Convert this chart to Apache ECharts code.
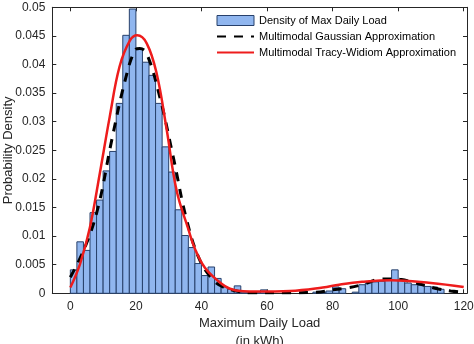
<!DOCTYPE html>
<html>
<head>
<meta charset="utf-8">
<script src="https://cdn.jsdelivr.net/npm/echarts@6.0.0/dist/echarts.min.js"></script>
<style>
  html, body { margin: 0; padding: 0; background: #fff; }
  #chart { width: 474px; height: 344px; }
</style>
</head>
<body>
<div id="chart"></div>
<script>
// Histogram of the maximum daily load (bin edges in kWh, probability density per bin)
const binEdges = [0, 2, 4, 6, 8, 10, 12, 14, 16, 18, 20, 22, 24, 26, 28, 30, 32, 34, 36, 38, 40,
  42, 44, 46, 48, 50, 52, 54, 56, 58, 60, 62, 64, 66, 68, 70, 72, 74, 76, 78, 80,
  82, 84, 86, 88, 90, 92, 94, 96, 98, 100, 102, 104, 106, 108, 110, 112, 114, 116, 118, 120];
const density = [
  0.0041, 0.0090, 0.0075, 0.0141, 0.0163, 0.0214, 0.0248, 0.0332, 0.0451, 0.0497,
  0.0428, 0.0404, 0.0381, 0.0332, 0.0256, 0.0212, 0.0146, 0.0101, 0.0080, 0.0052,
  0.0031, 0.0046, 0.0026, 0.0011, 0.0007, 0.0013, 0.0002, 0.0000, 0.0002, 0.0006,
  0.0002, 0.0000, 0.0000, 0.0000, 0.0000, 0.0000, 0.0000, 0.0002, 0.0002, 0.0004,
  0.0011, 0.0008, 0.0000, 0.0002, 0.0015, 0.0018, 0.0020, 0.0021, 0.0023, 0.0041,
  0.0023, 0.0018, 0.0015, 0.0014, 0.0012, 0.0011, 0.0007, 0.0000, 0.0000, 0.0000];

// Fitted densities sampled along the load axis
const gaussX = [0, 4.5, 8.5, 12.6, 16.7, 19.7, 21.2, 23.3, 27.3, 31.4, 35.5, 39.5, 43.6, 46.6, 50.7,
  55, 65, 75, 80, 84, 89, 95, 98, 101, 104, 108, 112, 116, 120];
const gaussY = [0.0028, 0.0081, 0.0151, 0.0267, 0.0372, 0.0425, 0.0428, 0.0419, 0.0343, 0.0238,
  0.0128, 0.0058, 0.0023, 0.0011, 0.0004, 0.0001, 0.0001, 0.0002, 0.0006, 0.0009, 0.0015,
  0.0025, 0.0025, 0.0024, 0.0020, 0.0014, 0.0008, 0.0004, 0.0002];

const tracyX = [0, 3, 6, 9, 12, 15, 18.2, 20.4, 23.3, 26.3, 29.4, 32.4, 36, 38, 41, 45, 48.7,
  52.7, 57, 67, 77, 82, 89, 98, 110, 120];
const tracyY = [0.0010, 0.0052, 0.0116, 0.0210, 0.0308, 0.0396, 0.0442, 0.0451, 0.0437, 0.0385,
  0.0286, 0.0180, 0.0112, 0.0078, 0.0045, 0.0022, 0.0008, 0.00035, 0.0003, 0.0004, 0.0010,
  0.0015, 0.0020, 0.0023, 0.0018, 0.0011];

const xTicks = [0, 20, 40, 60, 80, 100, 120];

const seriesNames = ['Density of Max Daily Load', 'Multimodal Gaussian Approximation', 'Multimodal Tracy-Widiom Approximation'];

const barFill = '#90b6ef';
const barEdge = '#27406b';
const axisColor = '#262626';
const font = "'Liberation Sans', Arial, Helvetica, sans-serif";

const histData = density.map((d, i) => [binEdges[i], binEdges[i + 1], d]);
const gaussData = gaussX.map((x, i) => [x, gaussY[i]]);
const tracyData = tracyX.map((x, i) => [x, tracyY[i]]);

const xMin = -5.5, xMax = 121;

const chart = echarts.init(document.getElementById('chart'), null, { renderer: 'canvas' });

const baseX = {
  type: 'value', min: xMin, max: xMax,
  splitLine: { show: false },
  axisLine: { show: true, onZero: false, lineStyle: { color: axisColor, width: 1 } },
  axisTick: { show: true, inside: true, length: 4, customValues: xTicks, lineStyle: { color: axisColor } },
};
const baseY = {
  type: 'value', min: 0, max: 0.05, interval: 0.005,
  splitLine: { show: false },
  axisLine: { show: true, onZero: false, lineStyle: { color: axisColor, width: 1 } },
  axisTick: { show: true, inside: true, length: 4, lineStyle: { color: axisColor } },
};

chart.setOption({
  animation: false,
  backgroundColor: '#fff',
  grid: { left: 52.3, right: 7, top: 7.3, bottom: 50.7, containLabel: false, outerBoundsMode: 'none' },
  xAxis: [
    Object.assign({}, baseX, {
      position: 'bottom',
      name: 'Maximum Daily Load\n(in kWh)',
      nameLocation: 'middle',
      nameGap: 21,
      nameMoveOverlap: false,
      nameTextStyle: { color: axisColor, fontSize: 13, fontFamily: font, lineHeight: 18 },
      axisLabel: { show: true, customValues: xTicks, margin: 7, color: axisColor, fontSize: 12, fontFamily: font },
    }),
    Object.assign({}, baseX, { position: 'top', axisLabel: { show: false } }),
  ],
  yAxis: [
    Object.assign({}, baseY, {
      position: 'left',
      name: 'Probability Density',
      nameLocation: 'middle',
      nameGap: 37,
      nameMoveOverlap: false,
      nameTextStyle: { color: axisColor, fontSize: 13, fontFamily: font },
      axisLabel: { show: true, margin: 7, color: axisColor, fontSize: 12, fontFamily: font },
    }),
    Object.assign({}, baseY, { position: 'right', axisLabel: { show: false } }),
  ],
  legend: {
    orient: 'vertical',
    left: 211,
    top: 10,
    itemWidth: 37,
    itemHeight: 10,
    itemGap: 5,
    textStyle: { color: '#000', fontSize: 11, fontFamily: font },
    data: [
      { name: seriesNames[0], icon: 'rect', itemStyle: { color: barFill, borderColor: barEdge, borderWidth: 1 } },
      { name: seriesNames[1], itemStyle: { opacity: 0 } },
      { name: seriesNames[2], itemStyle: { opacity: 0 } },
    ],
  },
  series: [
    {
      name: seriesNames[0],
      type: 'custom',
      xAxisIndex: 0, yAxisIndex: 0,
      encode: { x: [0, 1], y: 2 },
      itemStyle: { color: barFill, borderColor: barEdge, borderWidth: 1 },
      renderItem: function (params, api) {
        const h = api.value(2);
        if (!(h > 0)) return null;
        const p0 = api.coord([api.value(0), h]);
        const p1 = api.coord([api.value(1), 0]);
        return {
          type: 'rect',
          shape: { x: p0[0], y: p0[1], width: p1[0] - p0[0], height: p1[1] - p0[1] },
          style: { fill: barFill, stroke: barEdge, lineWidth: 1 },
        };
      },
      data: histData,
      z: 1,
    },
    {
      name: seriesNames[1],
      type: 'line',
      data: gaussData,
      smooth: 0.4,
      showSymbol: false,
      symbol: 'none',
      clip: true,
      itemStyle: { color: '#000' },
      lineStyle: { color: '#000', width: 3, type: [9, 8] },
      z: 3,
    },
    {
      name: seriesNames[2],
      type: 'line',
      data: tracyData,
      smooth: 0.4,
      showSymbol: false,
      symbol: 'none',
      clip: true,
      itemStyle: { color: '#ee1c1c' },
      lineStyle: { color: '#ee1c1c', width: 2.5 },
      z: 4,
    },
  ],
});
</script>
</body>
</html>
